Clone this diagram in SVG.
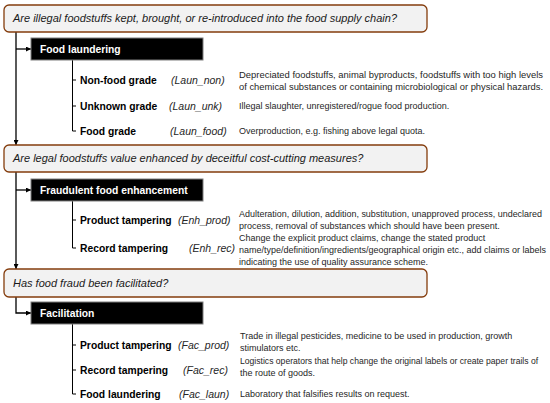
<svg xmlns="http://www.w3.org/2000/svg" width="550" height="403" viewBox="0 0 550 403">
<style>
.q{fill:#f2f2f2;stroke:#843c0c;stroke-width:1.3}
.qt{font-family:"Liberation Sans",Arial,sans-serif;font-size:11px;font-style:italic;fill:#1a1a1a}
.cat{fill:#000;stroke:#7f7f7f;stroke-width:1}
.ct{font-family:"Liberation Sans",Arial,sans-serif;font-size:10.3px;font-weight:bold;fill:#fff}
.lb{font-family:"Liberation Sans",Arial,sans-serif;font-size:10.3px;font-weight:bold;fill:#000}
.code{font-family:"Liberation Sans",Arial,sans-serif;font-size:10.5px;font-style:italic;fill:#262626}
.d{font-family:"Liberation Sans",Arial,sans-serif;font-size:9px;fill:#262626}
.ln{fill:none;stroke:#000;stroke-width:1.3}
.tk{fill:none;stroke:#000;stroke-width:1}
</style>
<defs>
<marker id="ah" viewBox="0 0 10 10" refX="10" refY="5" markerWidth="5" markerHeight="5" orient="auto" markerUnits="userSpaceOnUse">
<path d="M0,0 L10,5 L0,10 z" fill="#000"/>
</marker>
</defs>
<g id="connectors">
<path class="ln" d="M16,32 V145" marker-end="url(#ah)"/>
<path class="ln" d="M16,49 H31" marker-end="url(#ah)"/>
<path class="ln" d="M16,172 V269" marker-end="url(#ah)"/>
<path class="ln" d="M16,190 H31" marker-end="url(#ah)"/>
<path class="ln" d="M16,297 V313 H31" marker-end="url(#ah)"/>
<path class="tk" d="M72.5,60 V131 H76 M72.5,80 H76 M72.5,106 H76"/>
<path class="tk" d="M72.5,201 V248 H76 M72.5,220 H76"/>
<path class="tk" d="M72.5,324 V394 H76 M72.5,345 H76 M72.5,370 H76"/>
</g>
<g id="q1">
<rect class="q" x="4" y="5" width="423" height="27" rx="5"/>
<text class="qt" x="13" y="22">Are illegal foodstuffs kept, brought, or re-introduced into the food supply chain?</text>
</g>
<g id="laundering">
<rect class="cat" x="31" y="38" width="172" height="22"/>
<text class="ct" x="40" y="52.7">Food laundering</text>
</g>
<g id="laun_non">
<text class="lb" x="80" y="83.7">Non-food grade</text>
<text class="code" x="171" y="83.7">(Laun_non)</text>
<text class="d" x="239" y="78.2" textLength="304" lengthAdjust="spacingAndGlyphs">Depreciated foodstuffs, animal byproducts, foodstuffs with too high levels</text>
<text class="d" x="239" y="90.2" textLength="304" lengthAdjust="spacingAndGlyphs">of chemical substances or containing microbiological or physical hazards.</text>
</g>
<g id="laun_unk">
<text class="lb" x="80" y="109.7">Unknown grade</text>
<text class="code" x="169" y="109.7">(Laun_unk)</text>
<text class="d" x="239" y="109.2">Illegal slaughter, unregistered/rogue food production.</text>
</g>
<g id="laun_food">
<text class="lb" x="80" y="134.7">Food grade</text>
<text class="code" x="170" y="134.7">(Laun_food)</text>
<text class="d" x="239" y="134.2">Overproduction, e.g. fishing above legal quota.</text>
</g>
<g id="q2">
<rect class="q" x="4" y="145" width="423" height="27" rx="5"/>
<text class="qt" x="13" y="162">Are legal foodstuffs value enhanced by deceitful cost-cutting measures?</text>
</g>
<g id="enhancement">
<rect class="cat" x="31" y="179" width="172" height="22"/>
<text class="ct" x="40" y="193.7">Fraudulent food enhancement</text>
</g>
<g id="enh_prod">
<text class="lb" x="80" y="223.7">Product tampering</text>
<text class="code" x="178" y="223.7">(Enh_prod)</text>
<text class="d" x="239" y="217.2" textLength="303" lengthAdjust="spacingAndGlyphs">Adulteration, dilution, addition, substitution, unapproved process, undeclared</text>
<text class="d" x="239" y="229.2">process, removal of substances which should have been present.</text>
</g>
<g id="enh_rec">
<text class="lb" x="80" y="251.7">Record tampering</text>
<text class="code" x="189" y="251.7">(Enh_rec)</text>
<text class="d" x="239" y="241.2">Change the explicit product claims, change the stated product</text>
<text class="d" x="239" y="253.2" textLength="307" lengthAdjust="spacingAndGlyphs">name/type/definition/ingredients/geographical origin etc., add claims or labels</text>
<text class="d" x="239" y="265.2">indicating the use of quality assurance scheme.</text>
</g>
<g id="q3">
<rect class="q" x="4" y="269" width="423" height="28" rx="5"/>
<text class="qt" x="13" y="287">Has food fraud been facilitated?</text>
</g>
<g id="facilitation">
<rect class="cat" x="31" y="302" width="172" height="22"/>
<text class="ct" x="40" y="316.7">Facilitation</text>
</g>
<g id="fac_prod">
<text class="lb" x="80" y="348.7">Product tampering</text>
<text class="code" x="178" y="348.7">(Fac_prod)</text>
<text class="d" x="240" y="339.2">Trade in illegal pesticides, medicine to be used in production, growth</text>
<text class="d" x="240" y="351.2">stimulators etc.</text>
</g>
<g id="fac_rec">
<text class="lb" x="80" y="373.7">Record tampering</text>
<text class="code" x="183" y="373.7">(Fac_rec)</text>
<text class="d" x="240" y="364.2" style="font-size:8.6px">Logistics operators that help change the original labels or create paper trails of</text>
<text class="d" x="240" y="376.2">the route of goods.</text>
</g>
<g id="fac_laun">
<text class="lb" x="80" y="397.7">Food laundering</text>
<text class="code" x="179" y="397.7">(Fac_laun)</text>
<text class="d" x="240" y="397.2">Laboratory that falsifies results on request.</text>
</g>
</svg>
